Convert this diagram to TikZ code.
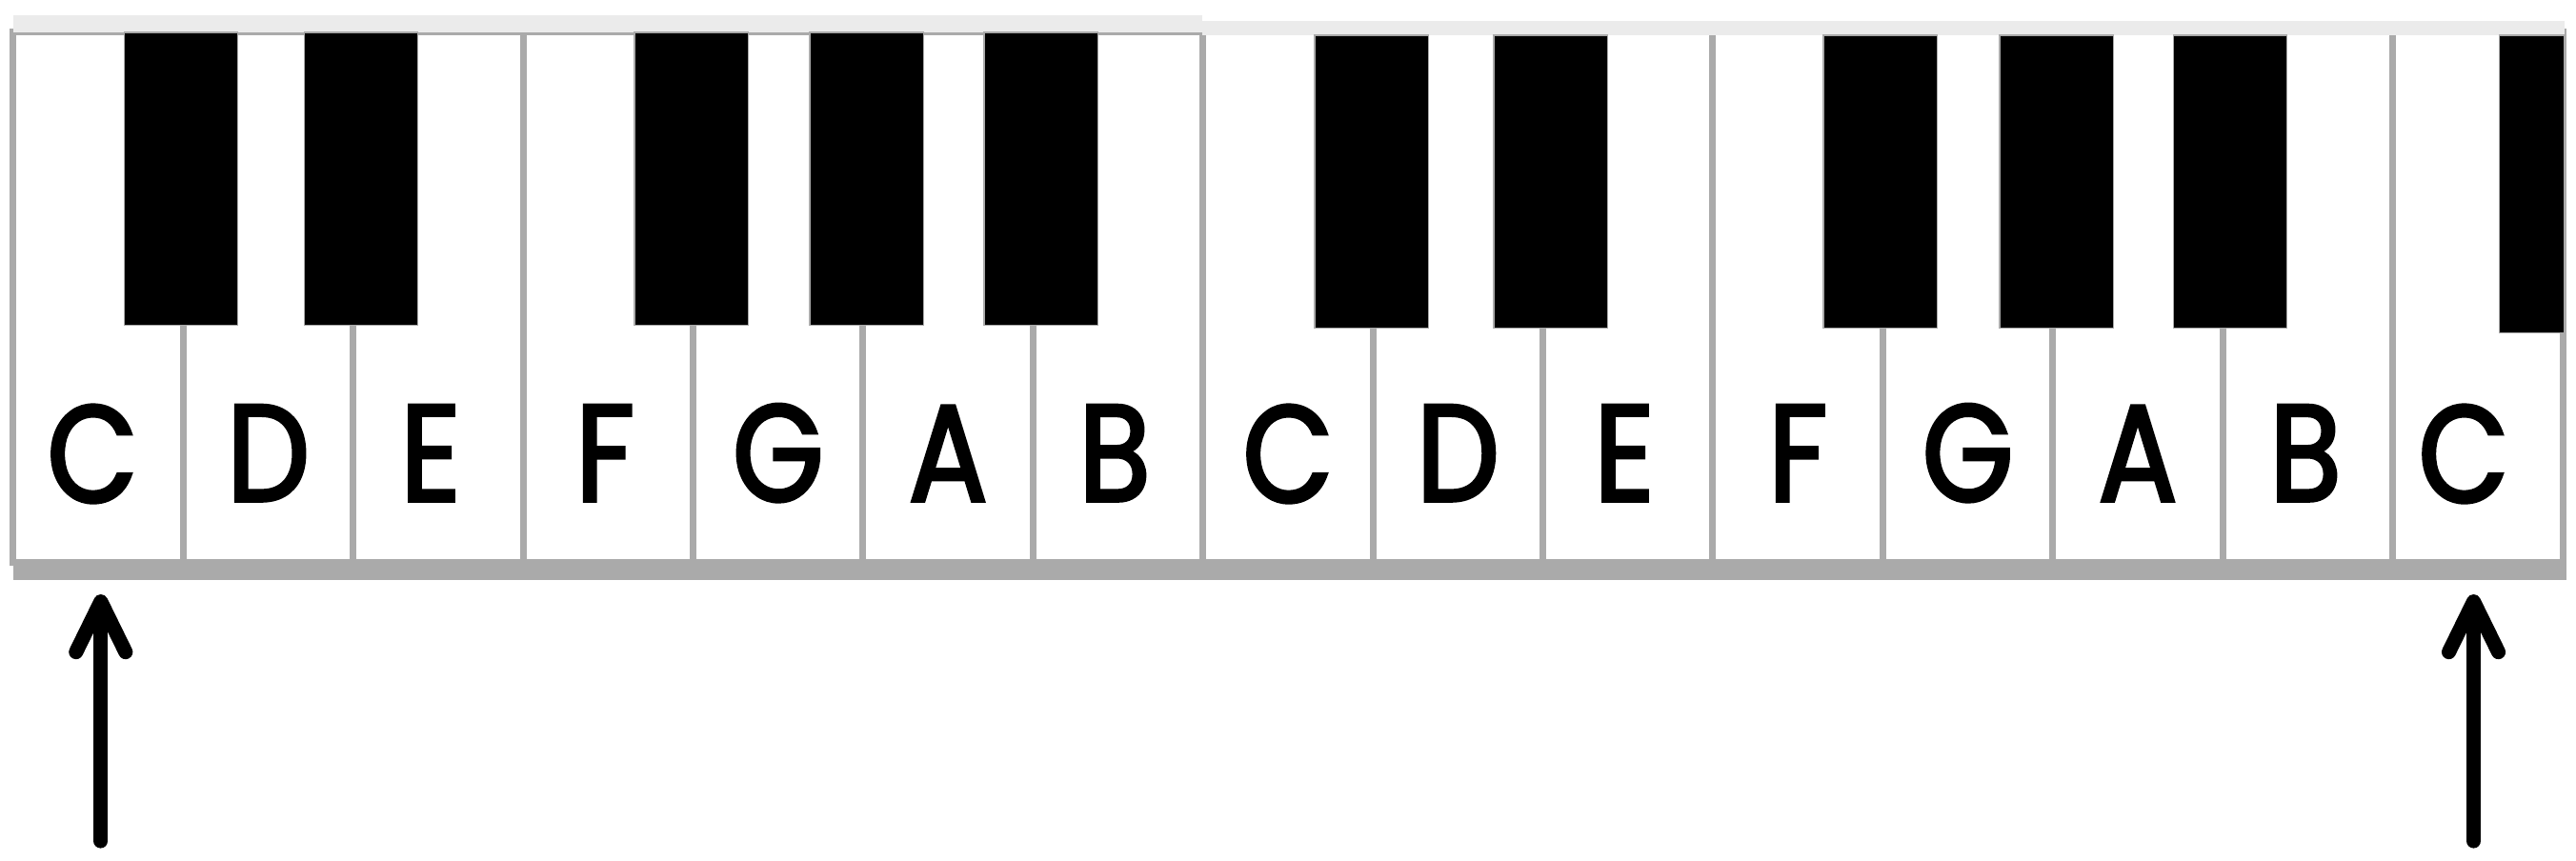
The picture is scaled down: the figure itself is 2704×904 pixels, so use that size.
\documentclass[tikz,border=0pt]{standalone}
\usepackage{fontspec}
\setmainfont{Poppins}
\newfontfamily\notefont{Poppins}[FakeStretch=0.85,FakeBold=2.5]
\usetikzlibrary{arrows.meta}
\definecolor{keyline}{HTML}{AAAAAA}
\definecolor{topbar}{HTML}{EBEBEB}

\begin{document}
\begin{tikzpicture}[x=0.01cm,y=-0.01cm]
\tikzstyle{every node}+=[inner sep=0pt,outer sep=0pt]
\tikzstyle{whitekey}=[draw=keyline,fill=white,line width=2pt,minimum width=1.784cm,minimum height=5.56cm]
\tikzstyle{blackkey}=[draw=keyline,fill=black,line width=0.3pt,minimum width=1.19cm,minimum height=3.07cm,anchor=north]
\tikzstyle{notename}=[anchor=base,font=\notefont\fontsize{41}{41}\selectfont]
\tikzstyle{pointer}=[line width=4.3pt,line cap=round,-{Straight Barb[round,length=0.53cm,width=0.52cm]}]
\fill [white] (0,0) rectangle (2704,904);
\useasboundingbox (0,0) rectangle (2704,904);
% white keys
\node [whitekey] (k0) at (103.2,312) {};
\node [whitekey] (k1) at (281.6,312) {};
\node [whitekey] (k2) at (460,312) {};
\node [whitekey] (k3) at (638.4,312) {};
\node [whitekey] (k4) at (816.8,312) {};
\node [whitekey] (k5) at (995.2,312) {};
\node [whitekey] (k6) at (1173.6,312) {};
\node [whitekey] (k7) at (1352,312) {};
\node [whitekey] (k8) at (1530.4,312) {};
\node [whitekey] (k9) at (1708.8,312) {};
\node [whitekey] (k10) at (1887.2,312) {};
\node [whitekey] (k11) at (2065.6,312) {};
\node [whitekey] (k12) at (2244,312) {};
\node [whitekey] (k13) at (2422.4,312) {};
\node [whitekey] (k14) at (2600.8,312) {};
% top rim, in two pieces
\fill [topbar] (14,16) rectangle (1262,34);
\fill [topbar] (1262,22) rectangle (2692,37);
% black keys
\node [blackkey] (b0) at (190,34) {};
\node [blackkey] (b1) at (379,34) {};
\node [blackkey] (b2) at (725.5,34) {};
\node [blackkey] (b3) at (909.5,34) {};
\node [blackkey] (b4) at (1092.5,34) {};
\node [blackkey] (b5) at (1439.5,37) {};
\node [blackkey] (b6) at (1627.5,37) {};
\node [blackkey] (b7) at (1973.5,37) {};
\node [blackkey] (b8) at (2158.5,37) {};
\node [blackkey] (b9) at (2341,37) {};
\node [blackkey,minimum width=0.68cm,minimum height=3.12cm] (b10) at (2657,37) {};
% bottom rim
\node [fill=keyline,minimum width=26.78cm,minimum height=0.19cm,anchor=north west] (bar) at (14,590) {};
% note names
\node [notename] (n0) at (97,527) {C};
\node [notename] (n1) at (281.6,526) {D};
\node [notename] (n2) at (452,526) {E};
\node [notename] (n3) at (635,526) {F};
\node [notename] (n4) at (816.8,526) {G};
\node [notename] (n5) at (995.2,526) {A};
\node [notename] (n6) at (1170,526) {B};
\node [notename] (n7) at (1352,527) {C};
\node [notename] (n8) at (1530.4,526) {D};
\node [notename] (n9) at (1705,526) {E};
\node [notename] (n10) at (1887.2,526) {F};
\node [notename] (n11) at (2065.6,526) {G};
\node [notename] (n12) at (2244,526) {A};
\node [notename] (n13) at (2420,526) {B};
\node [notename] (n14) at (2586,527) {C};
% arrows
\coordinate (lowC) at (105.8,883);
\coordinate (highC) at (2596.5,883);
\draw [pointer,shorten >=0.15cm] (lowC) -- (lowC |- bar.south);
\draw [pointer,shorten >=0.15cm] (highC) -- (highC |- bar.south);
\end{tikzpicture}
\end{document}
